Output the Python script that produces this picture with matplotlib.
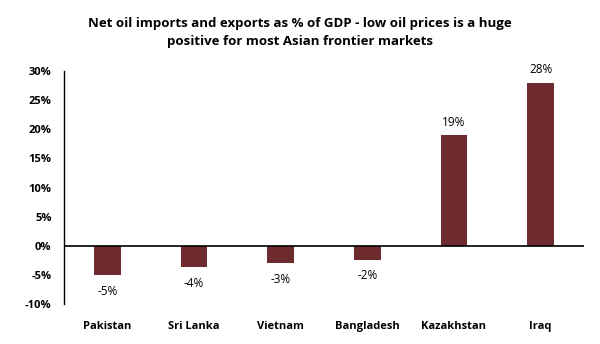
import matplotlib.pyplot as plt
from matplotlib.ticker import FuncFormatter

# Net oil imports/exports as % of GDP
countries = ['Pakistan', 'Sri Lanka', 'Vietnam', 'Bangladesh', 'Kazakhstan', 'Iraq']
values = [-5.1, -3.7, -3.0, -2.4, 19.0, 28.0]
labels = ['-5%', '-4%', '-3%', '-2%', '19%', '28%']

plt.rcParams['font.family'] = ['Open Sans', 'DejaVu Sans']

fig = plt.figure(figsize=(6, 3.44), dpi=100)
ax = fig.add_axes([64 / 600, 1 - 304 / 344, 520 / 600, 233 / 344])

x = range(len(countries))
bars = ax.bar(x, values, width=0.31, color='#6D2B2D', zorder=2)

for xi, v, lab in zip(x, values, labels):
    if v >= 0:
        ax.text(xi, v + 1.1, lab, ha='center', va='bottom', fontsize=8.5)
    else:
        ax.text(xi, v - 1.6, lab, ha='center', va='top', fontsize=8.5)

ax.set_xlim(-0.5, 5.5)
ax.set_ylim(-10, 30)
ax.set_yticks(range(-10, 31, 5))
ax.yaxis.set_major_formatter(FuncFormatter(lambda v, p: f'{v:.0f}%'))
ax.set_xticks(list(x))
ax.set_xticklabels(countries)
ax.axhline(0, color='black', linewidth=1.2, zorder=3)

for s in ['top', 'right', 'bottom']:
    ax.spines[s].set_visible(False)
ax.spines['left'].set_linewidth(1.0)
ax.tick_params(axis='y', length=0, pad=9)
ax.tick_params(axis='x', length=0, pad=12)
for t in ax.get_yticklabels() + ax.get_xticklabels():
    t.set_fontsize(8)
    t.set_fontweight('bold')

fig.text(0.5, 1 - 33 / 344,
         'Net oil imports and exports as % of GDP - low oil prices is a huge\npositive for most Asian frontier markets',
         ha='center', va='center', fontsize=9.5, fontweight='bold', linespacing=1.5)

fig.savefig('out.png', dpi=100)
